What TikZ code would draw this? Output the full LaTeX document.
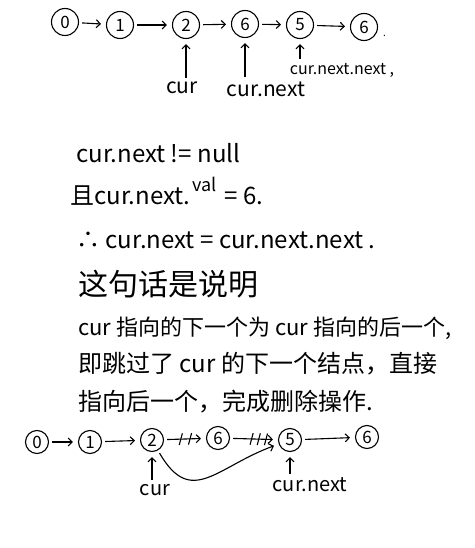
\documentclass[tikz,border=0pt]{standalone}
\usepackage{fontspec}
\setmainfont{Noto Sans CJK SC}
\usetikzlibrary{arrows.meta,positioning}

\begin{document}
\begin{tikzpicture}[x=1pt,y=-1pt,
	num/.style={circle,draw,line width=1.1pt,minimum size=27pt,inner sep=0pt,font=\fontsize{17}{17}\selectfont},
	lnk/.style={line width=1.1pt,-{Straight Barb[length=4pt,width=8pt]},shorten <=3pt,shorten >=5pt},
	lab/.style={inner sep=1pt,font=\fontsize{21}{21}\selectfont},
	txt/.style={anchor=west,inner sep=0pt,font=\fontsize{22}{26}\selectfont},
	strike/.style={draw,line width=1.1pt,minimum width=0pt,minimum height=12pt,inner sep=0pt,rotate=-15}]
		
		\fill[white] (0,0) rectangle (474,548);
		\useasboundingbox (0,0) rectangle (474,548);
		
		% list before deleting
		\foreach \n/\x/\y/\v in {0/65/22/0, 1/120/25/1, 2/186/25/2, 3/245/24/6, 4/300/25/5, 5/364/27/6} {
			\node (t\n) at (\x,\y) [num] {\v};
		}
		\foreach \a/\b in {0/1, 1/2, 2/3, 3/4, 4/5} {
			\draw[lnk] (t\a) -- (t\b);
		}
		\node (tdot) [right=9pt of t5.south east, anchor=south west, inner sep=0pt] {.};
		
		\node (lcur) at (182,88) [lab] {cur};
		\node (lnext) at (266,89) [lab] {cur.next};
		\node (lnn) at (342,70) [lab, font=\fontsize{16}{16}\selectfont] {cur.next.next ,};
		\draw[lnk] (lcur.north -| t2) -- (t2);
		\draw[lnk] (lnext.north -| t3) -- (t3);
		\draw[lnk] (lnn.north -| t4) -- (t4);
		
		% explanation
		\node (s1) at (76,153) [txt, font=\fontsize{24}{26}\selectfont] {cur.next != null};
		\node (s2) at (70,191) [txt, font=\fontsize{24}{26}\selectfont] {且cur.next.\hspace{2pt}\raisebox{13pt}{\fontsize{18}{18}\selectfont val}\hspace{8pt}= 6.};
		\node (s3) at (76,240) [txt, font=\fontsize{24}{26}\selectfont] {∴ cur.next = cur.next.next .};
		\node (s4) at (78,284) [txt, font=\fontsize{30}{32}\selectfont] {这句话是说明};
		\node (s5) at (78,328) [txt] {cur 指向的下一个为 cur 指向的后一个,};
		\node (s6) at (78,364) [txt, font=\fontsize{24}{26}\selectfont] {即跳过了 cur 的下一个结点，直接};
		\node (s7) at (78,402) [txt, font=\fontsize{24}{26}\selectfont] {指向后一个，完成删除操作.};
		
		% list after deleting
		\foreach \n/\x/\y/\v in {0/37/442/0, 1/90/442/1, 2/152/440/2, 3/218/438/6, 4/290/440/5, 5/367/437/6} {
			\node (b\n) at (\x,\y) [num, minimum size=23pt] {\v};
		}
		\draw[lnk] (b0) -- (b1);
		\draw[lnk] (b1) -- (b2);
		\draw[lnk] (b2) -- (b3) node[pos=.4, strike] {} node[pos=.62, strike] {};
		\draw[lnk] (b3) -- (b4) node[pos=.45, strike] {} node[pos=.6, strike] {} node[pos=.75, strike] {};
		\draw[lnk] (b4) -- (b5);
		\draw[lnk] (b2) to[out=-60, in=200, looseness=1.4] (b4);
		
		\node (bcur) at (155,490) [lab, font=\fontsize{20}{20}\selectfont] {cur};
		\node (bnext) at (310,485) [lab, font=\fontsize{20}{20}\selectfont] {cur.next};
		\draw[lnk] (bcur.north -| b2) -- (b2);
		\draw[lnk] (bnext.north -| b4) -- (b4);
		
	\end{tikzpicture}
\end{document}
